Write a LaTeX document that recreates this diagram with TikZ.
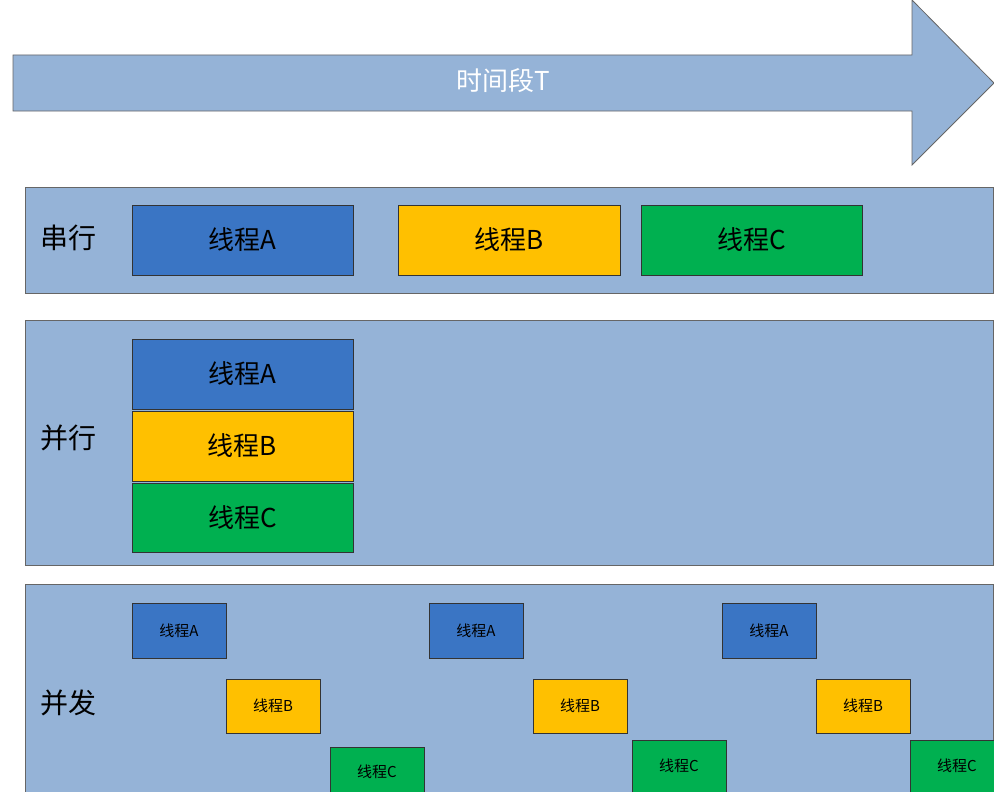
\documentclass[tikz,border=0pt]{standalone}
\usepackage{fontspec}
\setmainfont{Noto Sans CJK SC}
\usepackage{tikz}

\definecolor{panelblue}{HTML}{95B3D7}
\definecolor{boxblue}{HTML}{3A75C4}
\definecolor{boxyellow}{HTML}{FFC000}
\definecolor{boxgreen}{HTML}{00B050}

\tikzset{
  panel/.style={draw=black!60, fill=panelblue, line width=0.8pt},
  big/.style={draw=black!80, line width=0.6pt, font=\fontsize{26}{26}\selectfont},
  small/.style={draw=black!80, line width=0.6pt, font=\fontsize{15}{15}\selectfont},
  rowlabel/.style={font=\fontsize{28}{28}\selectfont}
}

\begin{document}
\begin{tikzpicture}[x=1pt,y=-1pt]
\useasboundingbox (0,0) rectangle (994,792);

% time arrow
\draw[panel] (13,55) -- (912,55) -- (912,0) -- (994,83) -- (912,165) -- (912,111) -- (13,111) -- cycle;
\node[text=white, font=\fontsize{26}{26}\selectfont] (time) at (503,81) {时间段T};

% panels
\draw[panel] (25,187) rectangle (993,293);
\draw[panel] (25,320) rectangle (993,565);
\draw[panel] (25,584) rectangle (993,800);

\node[rowlabel] (serial) at (68,238) {串行};
\node[rowlabel] (parallel) at (68,438) {并行};
\node[rowlabel] (concurrent) at (68,703) {并发};

% serial
\draw[big, fill=boxblue] (132,205) rectangle node (sA) {线程A} (353,275);
\draw[big, fill=boxyellow] (398,205) rectangle node (sB) {线程B} (620,275);
\draw[big, fill=boxgreen] (641,205) rectangle node (sC) {线程C} (862,275);

% parallel
\draw[big, fill=boxblue] (132,339) rectangle node (pA) {线程A} (353,409);
\draw[big, fill=boxyellow] (132,411) rectangle node (pB) {线程B} (353,481);
\draw[big, fill=boxgreen] (132,483) rectangle node (pC) {线程C} (353,552);

% concurrent
\foreach \x/\n in {132/1, 429/2, 722/3}
  \draw[small, fill=boxblue] (\x,603) rectangle node (cA\n) {线程A} (\x+94,658);
\foreach \x/\n in {226/1, 533/2, 816/3}
  \draw[small, fill=boxyellow] (\x,679) rectangle node (cB\n) {线程B} (\x+94,733);
\draw[small, fill=boxgreen] (330,747) rectangle node (cC1) {线程C} (424,797);
\draw[small, fill=boxgreen] (632,740) rectangle node (cC2) {线程C} (726,792);
\draw[small, fill=boxgreen] (910,740) rectangle node (cC3) {线程C} (1004,792);

\end{tikzpicture}
\end{document}
